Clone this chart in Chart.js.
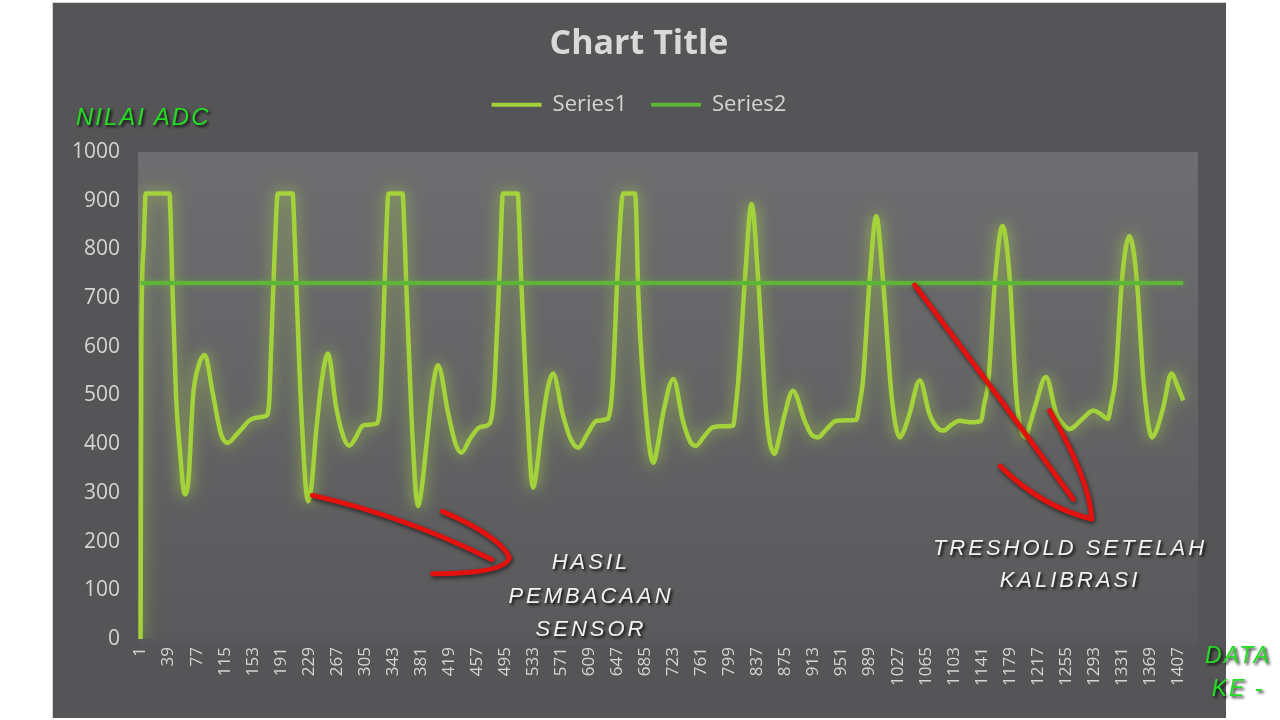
<!DOCTYPE html>
<html>
<head>
<meta charset="utf-8">
<script src="https://cdn.jsdelivr.net/npm/chart.js@4.4.1/dist/chart.umd.min.js"></script>
<style>
  html, body { margin: 0; padding: 0; background: #fff; width: 1280px; height: 720px; overflow: hidden; }
  #frame { position: absolute; left: 52px; top: 2px; width: 1173px; height: 715px; background: #555557; border-left: 1px solid #d4d4d4; border-top: 1px solid #d4d4d4; }
  #chart { position: absolute; left: 53px; top: 3px; }
  .note { position: absolute; font-family: "Liberation Sans", sans-serif; font-style: italic; letter-spacing: 3px; text-align: center; white-space: nowrap; }
  .green { color: #22dd22; text-shadow: 2px 2px 3px rgba(0,0,0,0.85); }
  .white { color: #f2f2f2; text-shadow: 2px 2px 3px rgba(0,0,0,0.85); }
</style>
</head>
<body>
<div id="frame"></div>
<canvas id="chart" width="1172" height="714"></canvas>

<div class="note green" style="left:76px; top:104px; font-size:24px; line-height:26px; letter-spacing:2px;">NILAI ADC</div>
<div class="note green" style="left:1196px; top:639px; width:84px; font-size:23px; line-height:33px; letter-spacing:2px;">DATA<br>KE -</div>
<div class="note white" style="left:471px; top:545px; width:240px; font-size:22px; line-height:33.5px;">HASIL<br>PEMBACAAN<br>SENSOR</div>
<div class="note white" style="left:910px; top:532px; width:320px; font-size:22px; line-height:32px;">TRESHOLD SETELAH<br>KALIBRASI</div>

<script>
// Series1 - hasil pembacaan sensor (data ke-, nilai ADC)
const sampleIndex = [
  1, 2, 5, 8, 40, 42, 44, 49, 54, 61, 66, 72, 79, 88, 99, 110, 119, 130, 140, 148, 156, 171, 175, 178, 183, 187,
  207, 209, 212, 219, 228, 233, 239, 248, 255, 266, 276, 284, 293, 302, 311, 320, 325, 329, 333, 337,
  356, 358, 361, 368, 377, 382, 388, 397, 404, 418, 428, 436, 447, 461, 474, 478, 481, 488, 492,
  512, 514, 517, 524, 533, 538, 544, 553, 560, 573, 584, 594, 606, 619, 634, 638, 641, 648, 655,
  671, 673, 675, 684, 696, 701, 709, 723, 736, 746, 754, 764, 777, 790, 804, 807, 811, 820, 829,
  838, 849, 860, 866, 874, 885, 901, 910, 919, 930, 944, 958, 971, 975, 980, 989, 998,
  1007, 1019, 1030, 1036, 1043, 1057, 1070, 1080, 1089, 1100, 1111, 1125, 1140, 1144, 1150, 1159, 1169,
  1179, 1188, 1200, 1206, 1213, 1228, 1242, 1252, 1260, 1276, 1292, 1302, 1312, 1316, 1322, 1331, 1341,
  1351, 1360, 1372, 1378, 1387, 1398, 1406, 1414
];
const adcValue = [
  0, 610, 800, 915, 915, 850, 730, 500, 393, 297, 330, 496, 558, 583, 503, 421, 403, 418, 435, 448, 454, 458, 480, 600, 806, 915,
  915, 860, 730, 462, 283, 320, 428, 545, 586, 476, 415, 397, 415, 438, 440, 442, 470, 600, 790, 915,
  915, 860, 730, 462, 273, 310, 393, 517, 562, 462, 400, 383, 410, 435, 442, 470, 531, 772, 915,
  915, 860, 730, 496, 311, 350, 428, 517, 545, 462, 410, 393, 420, 448, 452, 475, 531, 772, 915,
  915, 860, 730, 496, 362, 390, 462, 534, 448, 405, 397, 415, 435, 437, 438, 470, 531, 738, 893,
  738, 462, 380, 410, 462, 510, 448, 420, 414, 430, 448, 449, 450, 480, 531, 738, 868,
  738, 496, 414, 430, 462, 531, 462, 435, 428, 440, 448, 445, 448, 480, 531, 738, 848,
  738, 496, 414, 440, 476, 538, 462, 440, 431, 450, 469, 462, 452, 480, 531, 738, 827,
  738, 531, 414, 430, 476, 545, 520, 490
];

// Series2 - threshold setelah kalibrasi
const thresholdIndex = [1, 1414];
const thresholdValue = [731, 731];

const xTickLabels = [1, 39, 77, 115, 153, 191, 229, 267, 305, 343, 381, 419, 457, 495, 533, 571, 609, 647, 685,
  723, 761, 799, 837, 875, 913, 951, 989, 1027, 1065, 1103, 1141, 1179, 1217, 1255, 1293, 1331, 1369, 1407];
const yTickLabels = [0, 100, 200, 300, 400, 500, 600, 700, 800, 900, 1000];

const seriesNames = ["Series1", "Series2"];
const seriesColors = ["#a4d23b", "#5cb535"];
const glowColors = ["rgba(170, 215, 70, 0.85)", "rgba(100, 190, 60, 0.6)"];
const glowBlur = [15, 6];

const labelColor = "#d4d4d4";

// Red arrows, anchored in data units: [index, value]
const arrows = [
  { shaft: [[234, 295], [359, 252], [477, 163]], head: [[410, 262], [488, 211], [501, 167], [495, 134], [397, 134]] },
  { shaft: [[1050, 727], [1160, 507], [1265, 287]], head: [[1233, 469], [1288, 324], [1290, 246], [1220, 273], [1166, 355]] }
];

Chart.defaults.font.family = '"Open Sans", "DejaVu Sans", sans-serif';

// Plot area gradient background
const plotBg = {
  id: "plotBg",
  beforeDraw(chart) {
    const { ctx, chartArea: a } = chart;
    const g = ctx.createLinearGradient(0, a.top, 0, a.bottom + 6);
    g.addColorStop(0, "#6e6e70");
    g.addColorStop(1, "#59595b");
    ctx.save();
    ctx.fillStyle = g;
    ctx.fillRect(a.left, a.top, a.right - a.left, a.bottom - a.top + 6);
    ctx.restore();
  }
};

// Glow around the lines
const glow = {
  id: "glow",
  beforeDatasetDraw(chart, args) {
    const ctx = chart.ctx;
    ctx.save();
    ctx.shadowColor = glowColors[args.index];
    ctx.shadowBlur = glowBlur[args.index];
  },
  afterDatasetDraw(chart) {
    chart.ctx.restore();
  }
};

// Hand drawn red arrows
const redArrows = {
  id: "redArrows",
  afterDraw(chart) {
    const { ctx, scales } = chart;
    const px = (p) => [scales.x.getPixelForValue(p[0]), scales.y.getPixelForValue(p[1])];
    ctx.save();
    ctx.strokeStyle = "#e3120f";
    ctx.lineWidth = 5;
    ctx.lineCap = "round";
    ctx.lineJoin = "round";
    ctx.shadowColor = "rgba(0,0,0,0.6)";
    ctx.shadowBlur = 4;
    ctx.shadowOffsetX = 1;
    ctx.shadowOffsetY = 2;
    arrows.forEach((arr) => {
      const s = arr.shaft.map(px);
      ctx.beginPath();
      ctx.moveTo(s[0][0], s[0][1]);
      ctx.quadraticCurveTo(s[1][0], s[1][1], s[2][0], s[2][1]);
      ctx.stroke();
      const h = arr.head.map(px);
      ctx.beginPath();
      ctx.moveTo(h[0][0], h[0][1]);
      ctx.quadraticCurveTo(h[1][0], h[1][1], h[2][0], h[2][1]);
      ctx.quadraticCurveTo(h[3][0], h[3][1], h[4][0], h[4][1]);
      ctx.stroke();
    });
    ctx.restore();
  }
};

const ctx = document.getElementById("chart").getContext("2d");
new Chart(ctx, {
  type: "line",
  data: {
    datasets: [
      {
        label: seriesNames[0],
        data: sampleIndex.map((x, i) => ({ x: x, y: adcValue[i] })),
        borderColor: seriesColors[0],
        backgroundColor: seriesColors[0],
        borderWidth: 4.5,
        pointRadius: 0,
        cubicInterpolationMode: "monotone",
        order: 1
      },
      {
        label: seriesNames[1],
        data: thresholdIndex.map((x, i) => ({ x: x, y: thresholdValue[i] })),
        borderColor: seriesColors[1],
        backgroundColor: seriesColors[1],
        borderWidth: 4,
        pointRadius: 0,
        order: 0
      }
    ]
  },
  options: {
    responsive: false,
    animation: false,
    devicePixelRatio: 1,
    layout: { padding: 0 },
    plugins: {
      tooltip: { enabled: false },
      title: {
        display: true,
        text: "Chart Title",
        color: "#d9d9d9",
        font: { size: 34, weight: "bold" },
        padding: { top: 21, bottom: 5 }
      },
      // empty spacer between legend and plot area
      subtitle: {
        display: true,
        text: "",
        weight: 500,
        font: { size: 1 },
        padding: { top: 25, bottom: 0 }
      },
      legend: {
        position: "top",
        labels: {
          color: labelColor,
          font: { size: 22 },
          boxWidth: 50,
          boxHeight: 4,
          padding: 24,
          sort: (a, b) => a.datasetIndex - b.datasetIndex,
          generateLabels: (chart) =>
            Chart.defaults.plugins.legend.labels.generateLabels(chart).map((l) => ({
              ...l,
              lineWidth: 0,
              fillStyle: seriesColors[l.datasetIndex],
              strokeStyle: seriesColors[l.datasetIndex]
            }))
        }
      }
    },
    scales: {
      x: {
        type: "linear",
        min: -2.5,
        max: 1434,
        afterBuildTicks: (s) => { s.ticks = xTickLabels.map((v) => ({ value: v })); },
        afterFit: (s) => { s.height = 78; },
        grid: { display: false, drawTicks: false },
        border: { display: false },
        ticks: {
          autoSkip: false,
          minRotation: 90,
          maxRotation: 90,
          color: labelColor,
          font: { size: 17 },
          padding: 8,
          callback: (v) => String(v)
        }
      },
      y: {
        min: 0,
        max: 1000,
        afterBuildTicks: (s) => { s.ticks = yTickLabels.map((v) => ({ value: v })); },
        afterFit: (s) => { s.width = 85; },
        grid: { display: false, drawTicks: false },
        border: { display: false },
        ticks: {
          color: labelColor,
          font: { size: 21 },
          padding: 18,
          callback: (v) => String(v)
        }
      },
      // empty right-hand margin so the title and legend stay centred on the frame
      yRight: {
        position: "right",
        min: 0,
        max: 1000,
        afterFit: (s) => { s.width = 27; },
        grid: { display: false, drawTicks: false },
        border: { display: false },
        ticks: { display: false }
      }
    }
  },
  plugins: [plotBg, glow, redArrows]
});
</script>
</body>
</html>
